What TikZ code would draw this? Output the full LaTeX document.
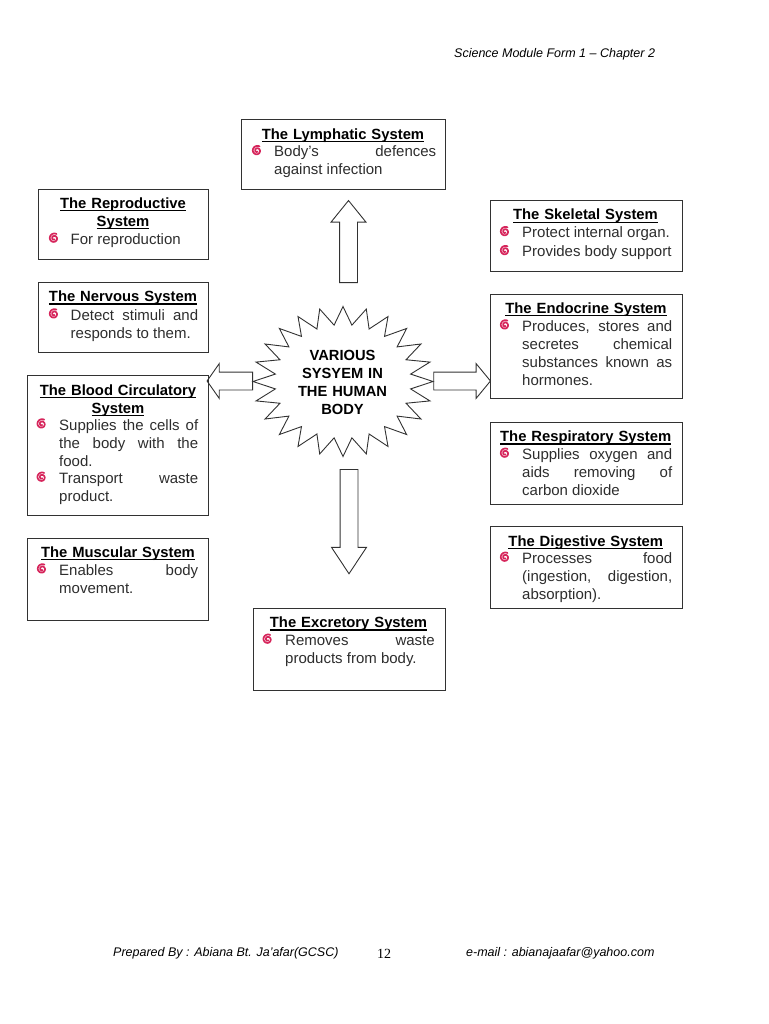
\documentclass[tikz,border=0pt]{standalone}
\usepackage{fontspec}
\setmainfont{Liberation Sans}
\newfontfamily\numfont{Liberation Serif}
\usetikzlibrary{shapes.geometric, shapes.arrows}
\definecolor{spiralred}{RGB}{214,38,92}
\definecolor{txtgrey}{RGB}{45,45,45}
\definecolor{linegrey}{RGB}{50,50,50}
\newcommand{\ttl}[1]{\leavevmode\sbox0{#1}\dp0=0pt\vtop{\offinterlineskip\copy0\kern1.6pt\hrule height 1.3pt}}

\begin{document}
\begin{tikzpicture}[x=1pt, y=-1pt,
        box/.style={rectangle, draw=linegrey, line width=1.1pt, inner sep=0pt},
        hd/.style={anchor=base, inner sep=0pt, text width=185pt, align=center,
          font=\fontsize{14.8}{18}\selectfont\bfseries},
        txt/.style={anchor=base west, inner sep=0pt, align=justify, text=txtgrey,
          font=\fontsize{15}{18}\selectfont},
        arw/.style={single arrow, draw=linegrey, line width=.9pt, anchor=tail,
          inner xsep=0pt, inner ysep=8.5pt, single arrow head extend=8.5pt},
        foot/.style={anchor=base west, inner sep=0pt, font=\fontsize{12.5}{15}\selectfont\itshape},
        bul/.pic={\draw[spiralred, line width=1.7pt, line cap=round]
          plot[smooth, domain=0:600, samples=36]
            ({(1+\x/150)*cos(\x+60)},{(1+\x/150)*sin(\x+60)});}]

      \useasboundingbox (0,0) rectangle (768,1024);

      % header
      \node[foot] (head) at (454,58) {Science Module Form 1 -- Chapter 2};

      % centre
      \node[star, star points=24, star point ratio=1.32, draw=linegrey, line width=.9pt,
        minimum size=150pt, inner sep=0pt, xscale=1.2] (burst) at (343,381.5) {};
      \node[font=\fontsize{14.7}{18}\selectfont\bfseries, align=center, anchor=base,
        inner sep=0pt, text width=120pt] (burstT) at (342.5,360.5)
        {VARIOUS\\ SYSYEM IN\\ THE HUMAN\\ BODY};

      % block arrows
      \node[arw, rotate=90, minimum height=82pt, single arrow tip angle=78] (aUp) at (348.5,283) {};
      \node[arw, rotate=-90, minimum height=104.3pt, single arrow tip angle=67] (aDown) at (349,469) {};
      \node[arw, rotate=180, minimum height=45.5pt, single arrow tip angle=110] (aLeft) at (253,381) {};
      \node[arw, minimum height=56.7pt, single arrow tip angle=101] (aRight) at (433.3,381) {};

      % Lymphatic
      \node[box, minimum width=204pt, minimum height=70.5pt] (lym) at (343.5,154.7) {};
      \node[hd] (lymT) at (343,139.3) {\ttl{The Lymphatic System}};
      \pic at (257,150.7) {bul};
      \node[txt, text width=162pt] (lymB) at (274,156.7) {Body's defences\linebreak against infection};

      % Reproductive
      \node[box, minimum width=170pt, minimum height=69.5pt] (rep) at (123.5,224.3) {};
      \node[hd] (repT) at (123,208.3) {\ttl{The Reproductive}\\ \ttl{System}};
      \pic at (54,238.3) {bul};
      \node[txt, text width=127.5pt] (repB) at (70.5,244.3) {For reproduction};

      % Nervous
      \node[box, minimum width=170pt, minimum height=69.6pt] (ner) at (123.5,317.5) {};
      \node[hd] (nerT) at (123,301.7) {\ttl{The Nervous System}};
      \pic at (54,314) {bul};
      \node[txt, text width=127.5pt] (nerB) at (70.5,320) {Detect stimuli and\linebreak responds to them.};

      % Blood
      \node[box, minimum width=181pt, minimum height=139.3pt] (blo) at (118,445.4) {};
      \node[hd] (bloT) at (118,395) {\ttl{The Blood Circulatory}\\ \ttl{System}};
      \pic at (41.7,424) {bul};
      \node[txt, text width=139pt] (bloB) at (59,430) {Supplies the cells of\linebreak the body with the\linebreak food.};
      \pic at (41.7,477.3) {bul};
      \node[txt, text width=139pt] (bloC) at (59,483.3) {Transport waste\linebreak product.};

      % Muscular
      \node[box, minimum width=181pt, minimum height=82pt] (mus) at (118,579.2) {};
      \node[hd] (musT) at (118,557) {\ttl{The Muscular System}};
      \pic at (42,569) {bul};
      \node[txt, text width=139pt] (musB) at (59,575) {Enables body\linebreak movement.};

      % Excretory
      \node[box, minimum width=192.4pt, minimum height=81.7pt] (exc) at (349.5,649.2) {};
      \node[hd] (excT) at (348.5,627.7) {\ttl{The Excretory System}};
      \pic at (267.7,639.3) {bul};
      \node[txt, text width=149.5pt] (excB) at (285,645.3) {Removes waste\linebreak products from body.};

      % Skeletal
      \node[box, minimum width=192.3pt, minimum height=70.6pt] (ske) at (586.2,236) {};
      \node[hd] (skeT) at (585.5,220) {\ttl{The Skeletal System}};
      \pic at (505,231.7) {bul};
      \node[txt, text width=150pt] (skeB) at (522,237.7) {Protect internal organ.};
      \pic at (505,250.7) {bul};
      \node[txt, text width=150pt] (skeC) at (522,256.7) {Provides body support};

      % Endocrine
      \node[box, minimum width=192.3pt, minimum height=104.3pt] (end) at (586.2,346.2) {};
      \node[hd] (endT) at (586,313) {\ttl{The Endocrine System}};
      \pic at (505,325) {bul};
      \node[txt, text width=150pt] (endB) at (522,331) {Produces, stores and\linebreak secretes chemical\linebreak substances known as\linebreak hormones.};

      % Respiratory
      \node[box, minimum width=192.3pt, minimum height=81.7pt] (res) at (586.2,463.2) {};
      \node[hd] (resT) at (585.7,441.7) {\ttl{The Respiratory System}};
      \pic at (505,453.3) {bul};
      \node[txt, text width=150pt] (resB) at (522,459.3) {Supplies oxygen and\linebreak aids removing of\linebreak carbon dioxide};

      % Digestive
      \node[box, minimum width=192.3pt, minimum height=81.6pt] (dig) at (586.2,567.5) {};
      \node[hd] (digT) at (585.8,546) {\ttl{The Digestive System}};
      \pic at (505,557.3) {bul};
      \node[txt, text width=150pt] (digB) at (522,563.3) {Processes food\linebreak (ingestion, digestion,\linebreak absorption).};

      % footer
      \node[foot] (footL) at (113,956) {Prepared By : Abiana Bt. Ja'afar(GCSC)};
      \node[anchor=base, inner sep=0pt, font=\fontsize{14}{16}\selectfont\numfont] (pageNo) at (384,958) {12};
      \node[foot] (footR) at (466,956) {e-mail : abianajaafar@yahoo.com};
    \end{tikzpicture}
\end{document}
